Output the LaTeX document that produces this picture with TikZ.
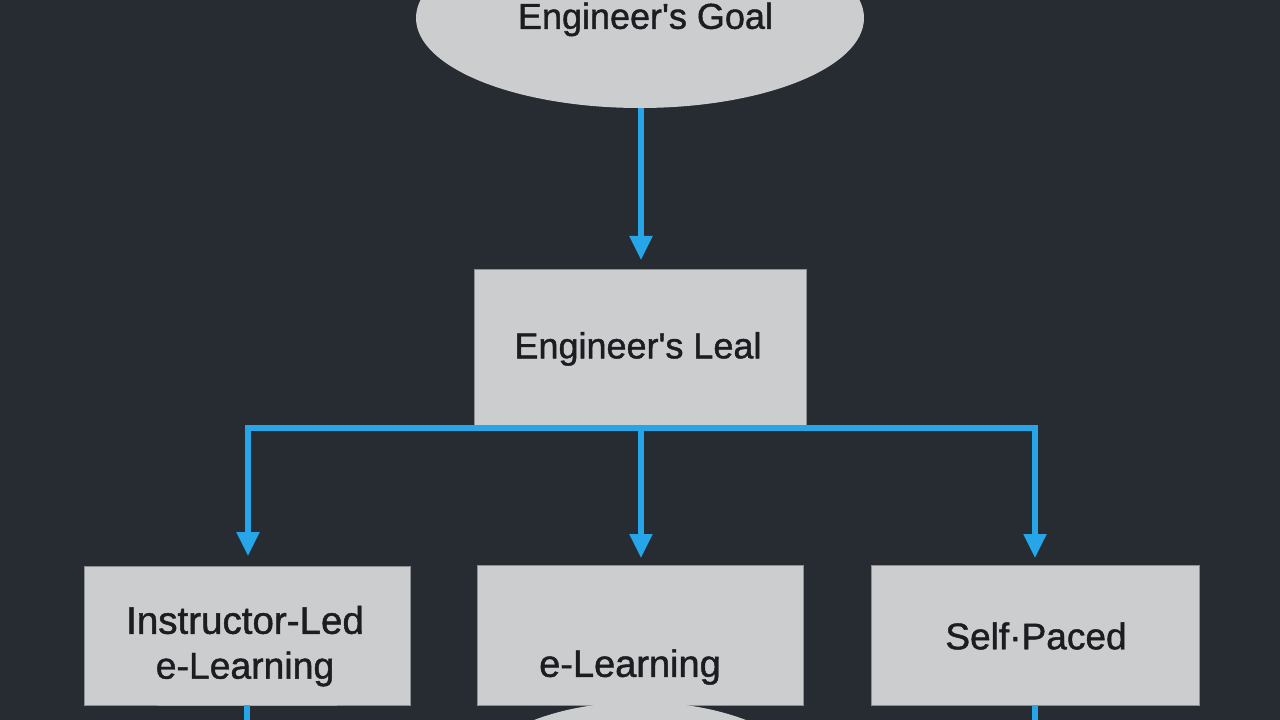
\documentclass[tikz,border=0pt]{standalone}
\usepackage{fontspec}
\setmainfont{Liberation Sans}[AutoFakeBold=1.2]
\usetikzlibrary{arrows.meta,shapes.geometric}
\definecolor{bgc}{HTML}{272B32}
\definecolor{boxc}{HTML}{CCCDCF}
\definecolor{edgec}{HTML}{8E9095}
\definecolor{bluec}{HTML}{26A6E8}
\definecolor{inkc}{HTML}{1B1D21}
\newcommand{\txtsize}[1]{\fontsize{#1}{33.75pt}\selectfont\bfseries}
\tikzset{
  px/.style={x=0.75pt,y=-0.75pt},
  blockbox/.style={rectangle,fill=boxc,draw=edgec,line width=0.6pt,inner sep=0pt,outer sep=0pt},
  oval/.style={ellipse,fill=boxc,inner sep=0pt,outer sep=0pt},
  txt/.style={text=inkc,align=center,inner sep=0pt},
  wire/.style={draw=bluec,line width=3.8pt},
  arrowline/.style={wire,-{Triangle[width=16.5pt,length=18pt]}}
}
\begin{document}
\begin{tikzpicture}[px]
\useasboundingbox (0,0) rectangle (1280,720);
\clip (0,0) rectangle (1280,720);
\fill[bgc] (0,0) rectangle (1280,720);
% top oval
\node[oval,minimum width=336pt,minimum height=135pt] (goal) at (640,18) {};
% free ends
\coordinate (stubA) at (247,720);
\coordinate (stubC) at (1035,720);
\coordinate (sliverL) at (158,705.6);
\coordinate (sliverR) at (337,705.6);
% boxes
\node[blockbox,minimum width=244.5pt,minimum height=104.25pt] (boxA) at (247,635.5) {};
\node[blockbox,minimum width=244.5pt,minimum height=105pt] (boxB) at (640,635) {};
\node[blockbox,minimum width=246pt,minimum height=105pt] (boxC) at (1035,635) {};
\node[blockbox,minimum width=249pt,minimum height=117pt] (leal) at (640,347) {};
\node[oval,minimum width=270pt,minimum height=141pt] (bottomoval) at (640,796) {};
\draw[draw=bluec!70!white,line width=1pt] (sliverL) -- (sliverR);
% labels
\node[txt,font=\txtsize{27pt}] (goaltext) at (645.5,19.5) {Engineer\textquotesingle s Goal};
\node[txt,font=\txtsize{27pt}] (lealtext) at (638,349) {Engineer\textquotesingle s Leal};
\node[txt,font=\txtsize{28.9pt}] (instext) at (245,620) {Instructor-Led};
\node[txt,font=\txtsize{28pt}] (instextb) at (245,669) {e-Learning};
\node[txt,font=\txtsize{28.5pt}] (eltext) at (630,667) {e-Learning};
\node[txt,font=\txtsize{27.8pt}] (selftext) at (1036,636) {Self·Paced};
% connectors
\coordinate (busL) at (248,428);
\coordinate (busM) at (641,428);
\coordinate (busR) at (1035,428);
\draw[arrowline,shorten >=6.75pt] ([xshift=0.75pt]goal.south) -- ([xshift=0.75pt]leal.north);
\draw[wire] ([xshift=-1.9pt]busL) -- (busM) -- ([xshift=1.9pt]busR);
\draw[arrowline,shorten >=7.5pt] (busL) -- ([xshift=0.75pt]boxA.north);
\draw[arrowline,shorten >=5.25pt] (busM) -- ([xshift=0.75pt]boxB.north);
\draw[arrowline,shorten >=5.25pt] (busR) -- (boxC.north);
\draw[wire] (boxA.south) -- (stubA);
\draw[wire] (boxC.south) -- (stubC);
\end{tikzpicture}
\end{document}
